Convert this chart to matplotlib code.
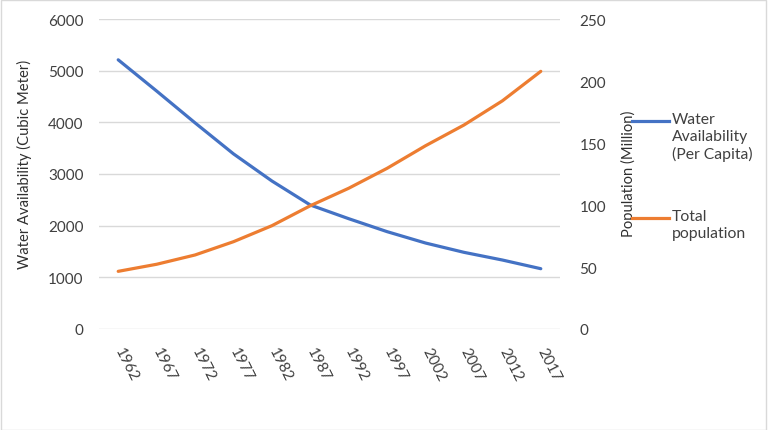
import numpy as np
import matplotlib
matplotlib.use("Agg")
import matplotlib.pyplot as plt
from matplotlib.patches import Rectangle
from matplotlib.lines import Line2D

years = ["1962", "1967", "1972", "1977", "1982", "1987",
         "1992", "1997", "2002", "2007", "2012", "2017"]
water = [5210, 4606, 3990, 3390, 2865, 2400,
         2135, 1884, 1664, 1484, 1335, 1167]
population = [46.5, 52.2, 59.7, 70.4, 83.3, 99.4,
              113.5, 129.6, 147.8, 164.5, 184.0, 207.8]
labels = ["Water\nAvailability\n(Per Capita)", "Total\npopulation"]

BLUE = "#4472C4"
ORANGE = "#ED7D31"
GRID = "#D9D9D9"
TXT = "#404040"

plt.rcParams["font.family"] = ["Lato", "DejaVu Sans"]
plt.rcParams["font.size"] = 11

W, H = 768, 431


def main():
    fig = plt.figure(figsize=(W / 100, H / 100), dpi=100)
    ax = fig.add_axes([99 / W, 1 - 330 / H, 461 / W, 310 / H])
    ax2 = ax.twinx()

    x = np.arange(len(years))
    ax.plot(x, water, color=BLUE, lw=2.3, solid_capstyle="round")
    ax2.plot(x, population, color=ORANGE, lw=2.3, solid_capstyle="round")

    ax.set_xlim(-0.5, len(years) - 0.5)
    ax.set_ylim(0, 6000)
    ax.set_yticks(range(0, 6001, 1000))
    ax2.set_ylim(0, 250)
    ax2.set_yticks(range(0, 251, 50))
    ax.set_xticks(x)
    ax.set_xticklabels(years, rotation=-63, ha="left", va="center",
                       rotation_mode="anchor", color=TXT, fontsize=12)

    ax.grid(axis="y", color=GRID, lw=1)
    ax.set_axisbelow(True)
    for a in (ax, ax2):
        for s in a.spines.values():
            s.set_visible(False)
        a.tick_params(length=0, colors=TXT, labelsize=11)
    ax.tick_params(axis="y", pad=11)
    ax2.tick_params(axis="y", pad=14)
    ax.tick_params(axis="x", pad=14)

    ax.set_ylabel("Water Availability (Cubic Meter)", color="#303030", fontsize=10.6)
    ax.yaxis.set_label_coords(-(99 - 32) / 461, (330 - 164) / 310)
    ax2.set_ylabel("Population (Million)", color="#303030", fontsize=10.6)
    ax2.yaxis.set_label_coords((621 - 99) / 461, (330 - 174) / 310)

    # legend drawn by hand, Excel style: line level with the first text row
    for col, lab, ypx in [(BLUE, labels[0], 122), (ORANGE, labels[1], 219)]:
        fig.add_artist(Line2D([632 / W, 669 / W], [1 - ypx / H] * 2,
                              color=col, lw=2.3, transform=fig.transFigure))
        fig.text(672 / W, 1 - (ypx - 9) / H, lab, ha="left", va="top",
                 color=TXT, fontsize=11.3, linespacing=1.25)

    fig.patches.append(Rectangle((0.001, 0.001), 0.997, 0.997, transform=fig.transFigure,
                                 fill=False, edgecolor=GRID, lw=1))

    fig.savefig("out.png", dpi=100)


if __name__ == "__main__":
    main()
